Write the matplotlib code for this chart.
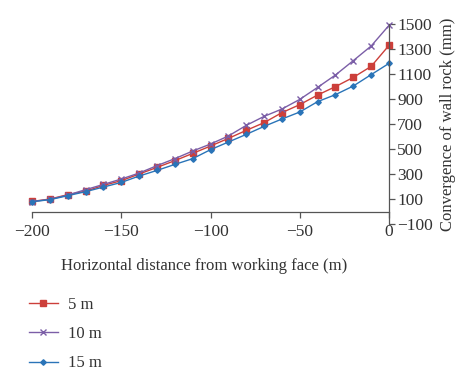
import numpy as np
import matplotlib
matplotlib.use("Agg")
import matplotlib.pyplot as plt

plt.rcParams['font.family'] = ['Liberation Serif', 'DejaVu Serif']

dist = [-200, -190, -180, -170, -160, -150, -140, -130, -120, -110, -100,
        -90, -80, -70, -60, -50, -40, -30, -20, -10, 0]
conv_5m = [81, 100, 135, 163, 209, 247, 300, 353, 407, 465, 524,
           585, 649, 711, 791, 855, 932, 999, 1073, 1161, 1329]
conv_10m = [80, 97, 132, 175, 217, 260, 308, 367, 423, 484, 540,
            604, 689, 761, 820, 897, 993, 1092, 1207, 1324, 1489]
conv_15m = [79, 95, 127, 159, 196, 233, 284, 329, 377, 423, 495,
            556, 617, 681, 740, 796, 879, 935, 1004, 1095, 1185]

fig = plt.figure(figsize=(4.74, 3.85), dpi=100)
ax = fig.add_axes([0.0675, 0.418, 0.7532, 0.5197])

ax.plot(dist, conv_5m, color='#cc3f3a', marker='s', ms=4, lw=1, label='5 m', clip_on=False)
ax.plot(dist, conv_10m, color='#7b5ea7', marker='x', ms=4, mew=1, lw=1, label='10 m', clip_on=False)
ax.plot(dist, conv_15m, color='#2a74b8', marker='D', ms=2.8, lw=1, label='15 m', clip_on=False)

ax.set_xlim(-200, 0)
ax.set_ylim(-100, 1500)
ax.set_xticks(np.arange(-200, 1, 50))
ax.set_yticks(np.arange(-100, 1501, 200))

ax.spines['top'].set_visible(False)
ax.spines['left'].set_visible(False)
ax.spines['bottom'].set_position(('data', 0))
for s in ('bottom', 'right'):
    ax.spines[s].set_color('#555555')
    ax.spines[s].set_linewidth(0.9)
ax.yaxis.tick_right()
ax.yaxis.set_label_position('right')
ax.tick_params(axis='both', colors='#555555', labelcolor='#333333', labelsize=12.5, length=4, width=0.9)
ax.tick_params(axis='x', pad=5)
ax.tick_params(axis='y', pad=2)

ax.set_ylabel('Convergence of wall rock (mm)', fontsize=12, color='#333333', labelpad=5)
fig.text(0.43, 0.31, 'Horizontal distance from working face (m)', fontsize=12,
         color='#333333', ha='center', va='center')

handles, labels = ax.get_legend_handles_labels()
fig.legend(handles, labels, loc='upper left', bbox_to_anchor=(0.03, 0.268),
           frameon=False, fontsize=12, handlelength=1.7, labelspacing=0.8,
           handletextpad=0.6, labelcolor='#333333')

fig.savefig('out.png', dpi=100)
